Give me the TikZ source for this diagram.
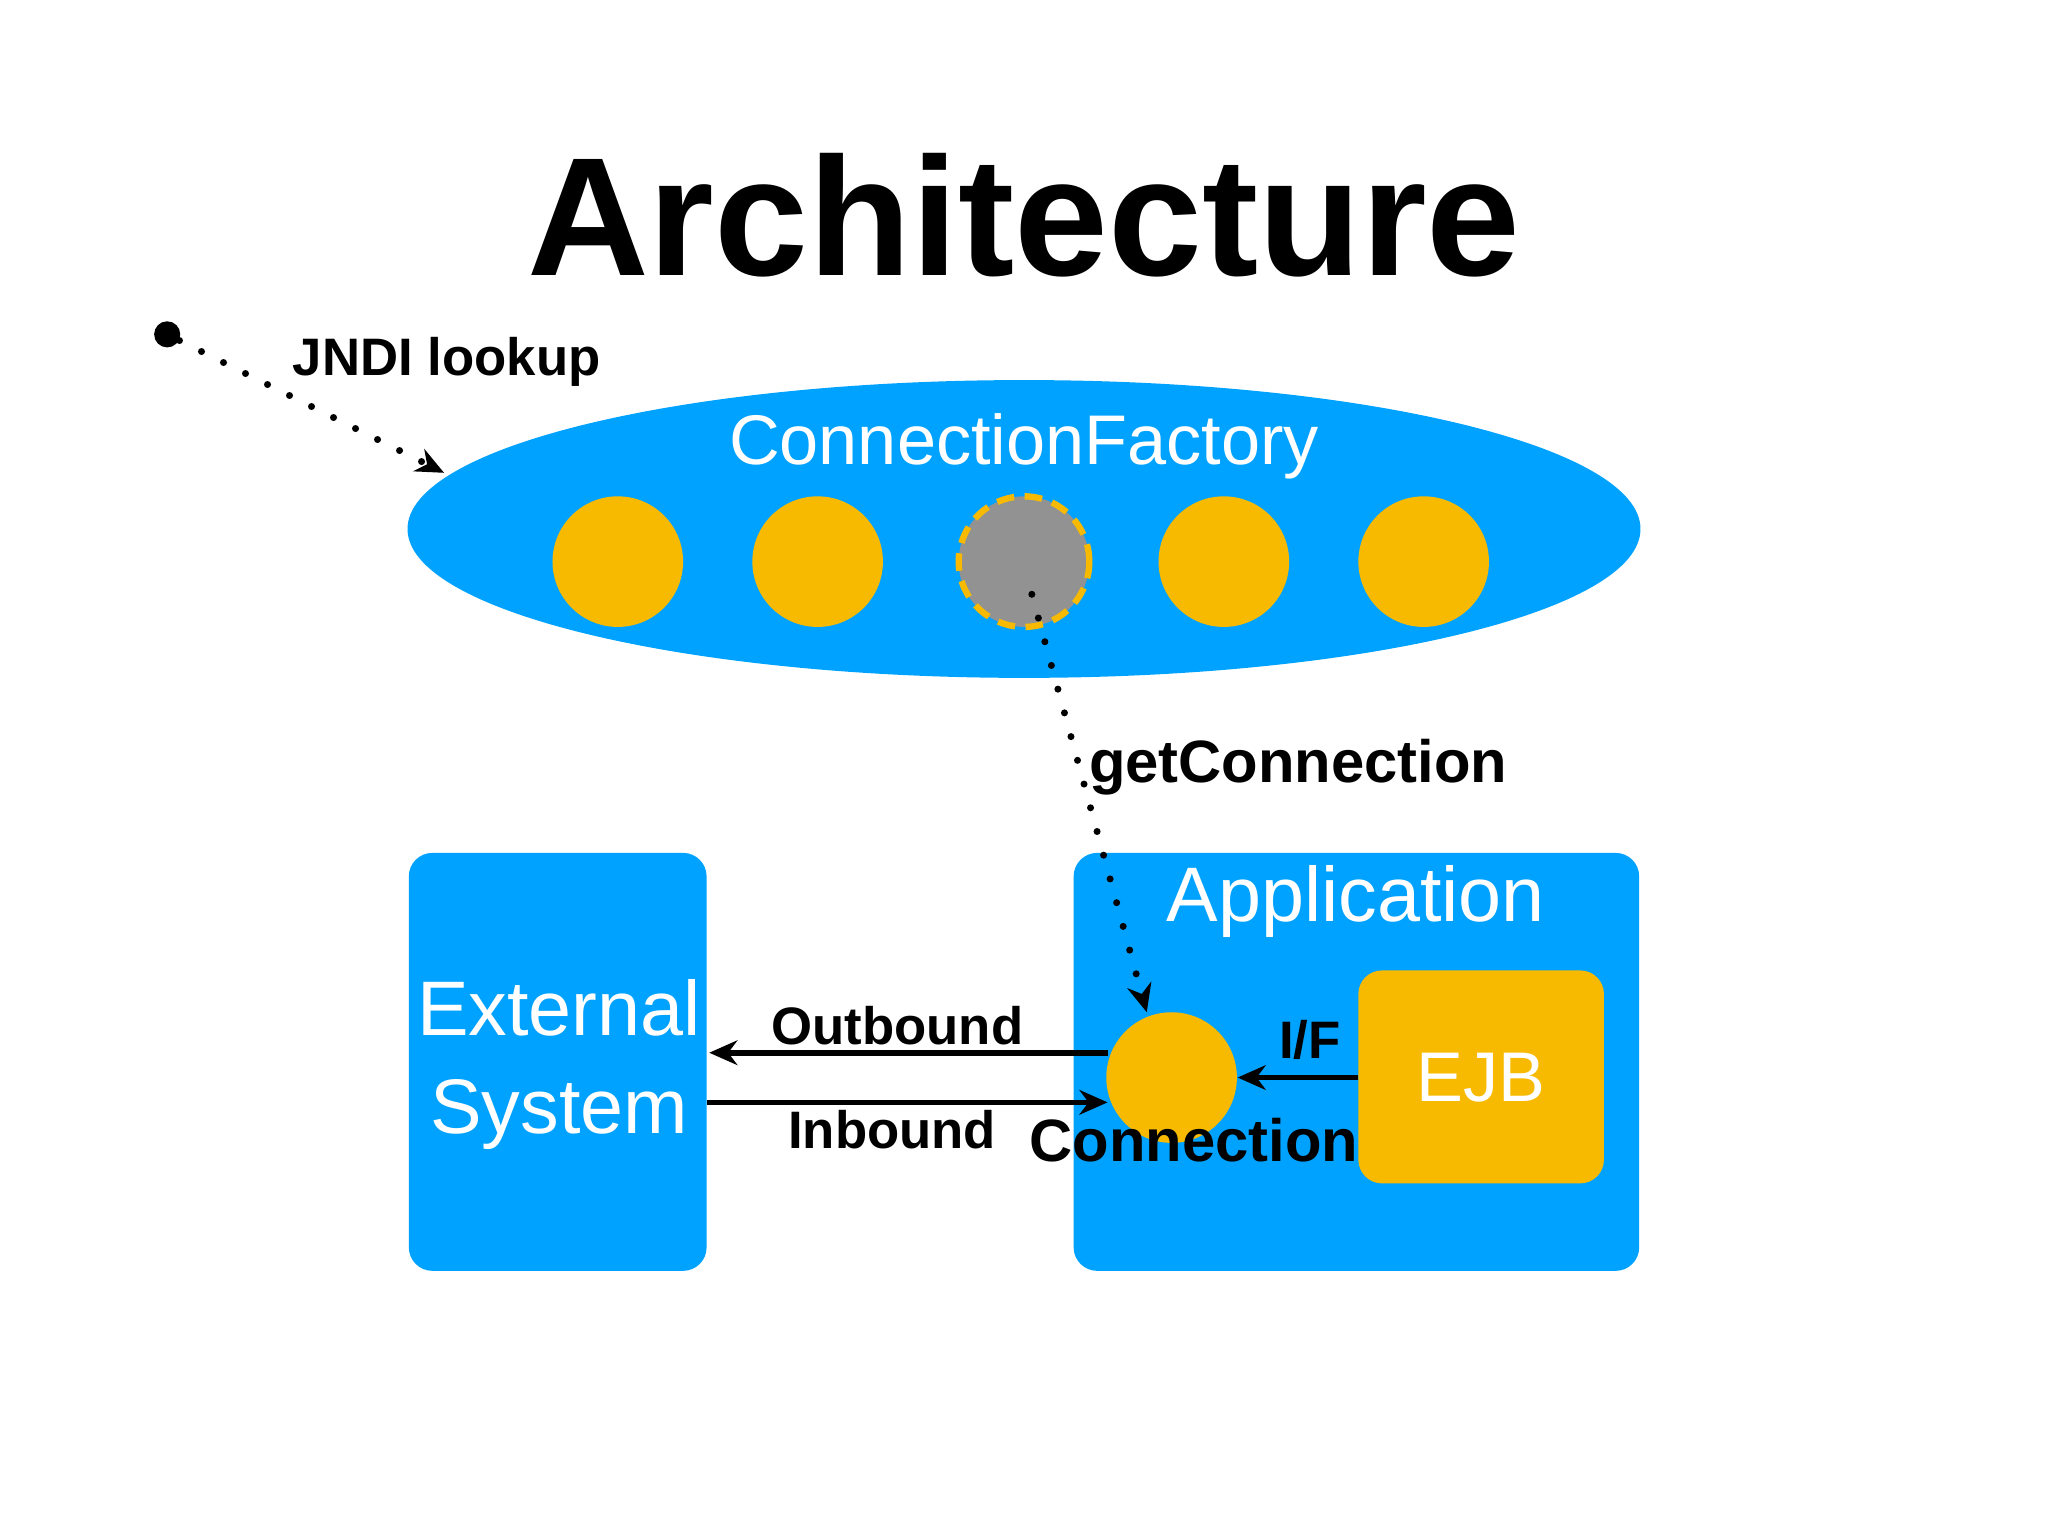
\documentclass[tikz,border=0pt]{standalone}
\usepackage{fontspec}
\setmainfont{Liberation Sans}
\usetikzlibrary{positioning, arrows.meta, calc, shapes.geometric}
\definecolor{cfblue}{HTML}{00A2FF}
\definecolor{cforange}{HTML}{F8BA00}
\definecolor{cfgray}{HTML}{929292}

\begin{document}
\begin{tikzpicture}[x=0.013061cm, y=-0.013061cm,
    pool/.style={circle, fill=cforange, minimum size=100*0.013061cm, inner sep=0pt},
    box/.style={fill=cfblue, rounded corners=18*0.013061cm, draw=none},
    wlabel/.style={text=white, font=\fontsize{20}{24}\selectfont},
    blabel/.style={text=black, font=\bfseries\fontsize{15}{18}\selectfont},
    flow/.style={-{Stealth[length=8pt,width=7pt]}, line width=1.6pt},
    dots/.style={-{Stealth[length=8pt,width=7pt]}, line width=2pt, dash pattern=on 0pt off 7pt, line cap=round}]
  \useasboundingbox (0,0) rectangle (1568,1176);

  % title
  \node (title) at (784,165) {\fontsize{48}{56}\selectfont\bfseries Architecture};

  % connection factory
  \node[ellipse, fill=cfblue, minimum width=944*0.013061cm, minimum height=228*0.013061cm, inner sep=0pt] (factory) at (784,405) {};
  \node[wlabel] (factorylabel) at (784,342) {ConnectionFactory};
  \foreach \x/\n in {473/c1, 626/c2, 937/c4, 1090/c5}
    \node[pool] (\n) at (\x,430) {};
  \node[pool, fill=cfgray, draw=cforange, line width=1.8pt, dash pattern=on 5pt off 3pt] (c3) at (784,430) {};

  % jndi lookup
  \node[circle, fill=black, minimum size=20*0.013061cm, inner sep=0pt] (client) at (128,256) {};
  \coordinate (lookupend) at (340,362);
  \draw[dots] (client) -- (lookupend);
  \node[blabel] (jndi) at (342,277) {JNDI lookup};

  % boxes
  \draw[box] (313,653) rectangle (541,973);
  \node[wlabel, align=center, font=\fontsize{22}{28}\selectfont] (external) at (428,815) {External\\System};
  \draw[box] (822,653) rectangle (1255,973);
  \node[wlabel, font=\fontsize{22}{26}\selectfont] (application) at (1038,690) {Application};
  \draw[box, fill=cforange] (1040,743) rectangle (1228,906);
  \node[wlabel] (ejb) at (1134,825) {EJB};

  % connection
  \node[pool] (conn) at (897,825) {};
  \node[blabel, font=\bfseries\fontsize{17}{20}\selectfont] (connlabel) at (914,873) {Connection};
  \coordinate (getstart) at (790,455);
  \coordinate (getend) at (878,775);
  \draw[dots] (getstart) -- (getend);
  \node[blabel, font=\bfseries\fontsize{17}{20}\selectfont] (getconn) at (994,587) {getConnection};

  % flows
  \coordinate (outfrom) at (848,806);
  \coordinate (outto) at (543,806);
  \coordinate (infrom) at (541,844);
  \coordinate (into) at (848,844);
  \draw[flow] (outfrom) -- (outto);
  \draw[flow] (infrom) -- (into);
  \node[blabel] (outbound) at (687,785) {Outbound};
  \node[blabel] (inbound) at (683,865) {Inbound};
  \coordinate (ejbleft) at (1040,825);
  \draw[flow] (ejbleft) -- (conn.east);
  \node[blabel] (iface) at (1003,796) {I/F};
\end{tikzpicture}
\end{document}
